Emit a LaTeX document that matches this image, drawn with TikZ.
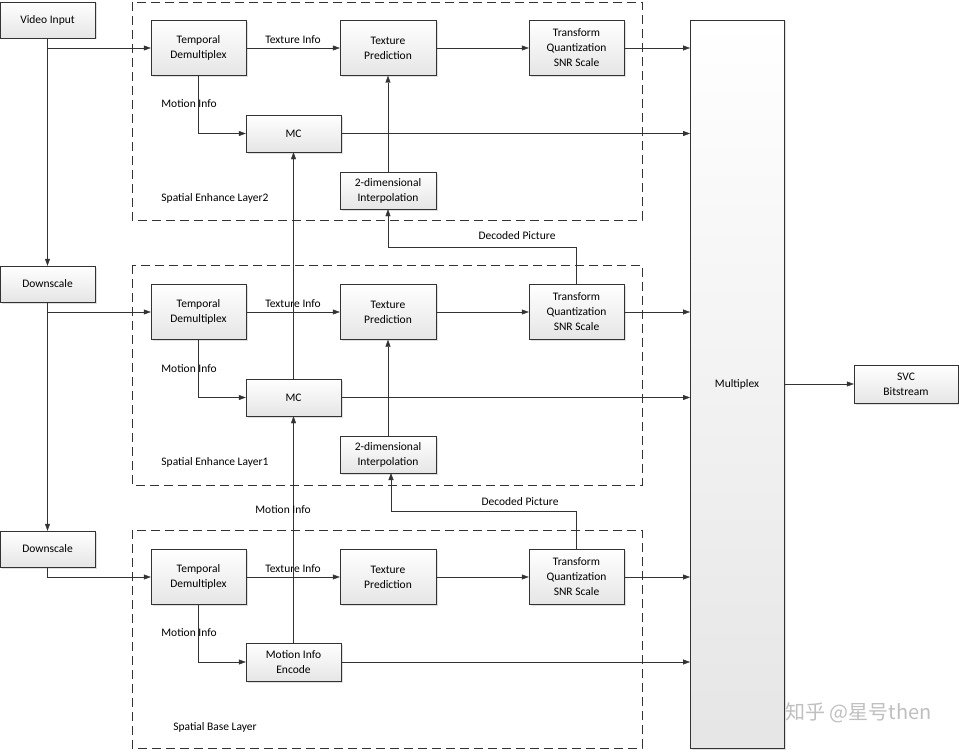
\documentclass[tikz,border=0pt]{standalone}
\usepackage{fontspec}
\setmainfont{Carlito}
\newfontfamily\cjk{Noto Sans CJK SC}
\usetikzlibrary{arrows.meta,shadows}
\begin{document}
\begin{tikzpicture}[x=1pt,y=-1pt,
 box/.style={draw=black!80,top color=white,bottom color=black!10,align=center,font=\fontsize{11.5}{15}\selectfont,
   inner sep=0pt,drop shadow={shadow xshift=1.5pt,shadow yshift=-1.5pt,opacity=0.25}},
 ar/.style={draw=black!80,-{Triangle[length=7pt,width=5pt]}},
 ln/.style={draw=black!80},
 lab/.style={font=\fontsize{11.5}{14}\selectfont},
 layer/.style={draw=black!80,dashed,dash pattern=on 9pt off 5pt}]
\useasboundingbox (0,0) rectangle (959,752);
\def\bx#1#2#3#4#5#6{\node[box,minimum width=#4pt,minimum height=#5pt] (#1) at (#2,#3) {#6};}
\draw[layer] (132,2) rectangle (642,220);
\draw[layer] (132,265) rectangle (642,485);
\draw[layer] (132,530) rectangle (642,748);
\bx{vi}{47.5}{20}{95}{36}{Video Input}
\bx{ds1}{47.5}{284}{95}{36}{Downscale}
\bx{ds2}{47.5}{549}{95}{36}{Downscale}
\foreach \n/\y in {a/48,b/312,c/577}{
 \bx{td\n}{198.5}{\y}{95}{55}{Temporal\\Demultiplex}
 \bx{tp\n}{388}{\y}{96}{55}{Texture\\Prediction}
 \bx{tq\n}{576.5}{\y}{95}{55}{Transform\\Quantization\\SNR Scale}
 \draw[ar] (td\n) -- node[lab,above=1pt]{Texture Info} (tp\n);
 \draw[ar] (tp\n) -- (tq\n);
 \draw[ar] (tq\n.east) -- (690,\y);
}
\bx{mca}{293.5}{133.5}{95}{37}{MC}
\bx{mcb}{293.5}{397.5}{95}{37}{MC}
\bx{mie}{293.5}{662}{95}{38}{Motion Info\\Encode}
\bx{ina}{388}{190.5}{96}{37}{2-dimensional\\Interpolation}
\bx{inb}{388}{454.5}{96}{37}{2-dimensional\\Interpolation}
\bx{mux}{737}{384}{94}{728}{Multiplex}
\bx{svc}{906}{384}{104}{38}{SVC\\Bitstream}
\coordinate (m1) at (690,133.5);
\coordinate (m2) at (690,397.5);
\coordinate (m3) at (690,662);
\draw[ar] (vi) -- (ds1);
\draw[ar] (ds1) -- (ds2);
\draw[ar] (47.5,48) -- (tda.west);
\draw[ar] (47.5,312) -- (tdb.west);
\draw[ar] (ds2.south) -- (47.5,577) -- (tdc.west);
\draw[ar] (tda.south) -- (198.5,133.5) -- (mca.west);
\draw[ar] (tdb.south) -- (198.5,397.5) -- (mcb.west);
\draw[ar] (tdc.south) -- (198.5,662) -- (mie.west);
\node[lab] at (189,104) {Motion Info};
\node[lab] at (189,368.5) {Motion Info};
\node[lab] at (189,633) {Motion Info};
\draw[ar] (mca) -- (m1);
\draw[ar] (mcb) -- (m2);
\draw[ar] (mie) -- (m3);
\draw[ar] (mcb) -- (mca);
\draw[ar] (mie) -- (mcb);
\node[lab] at (283,510) {Motion Info};
\draw[ar] (ina) -- (tpa);
\draw[ar] (inb) -- (tpb);
\draw[ar] (tqb.north) -- (576.5,247) -- (388,247) -- (ina.south);
\node[lab] at (517,236) {Decoded Picture};
\draw[ar] (tqc.north) -- (576.5,511) -- (391,511) -- (391,473);
\node[lab] at (520,502) {Decoded Picture};
\draw[ar] (mux) -- (svc);
\node[lab] at (215,198.5) {Spatial Enhance Layer2};
\node[lab] at (215,462.5) {Spatial Enhance Layer1};
\node[lab] at (215,727.5) {Spatial Base Layer};
\node[font=\cjk\fontsize{20}{24}\selectfont,text=black!25,anchor=east] at (935,713) {知乎 @星号then};
\end{tikzpicture}
\end{document}
